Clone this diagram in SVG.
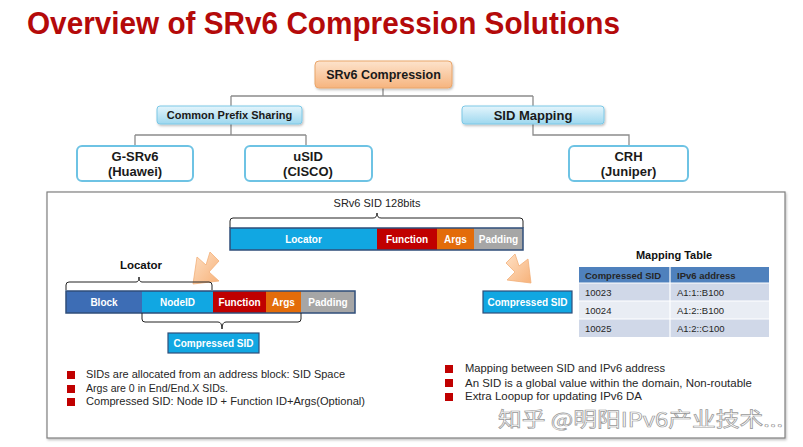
<svg xmlns="http://www.w3.org/2000/svg" width="803" height="447" viewBox="0 0 803 447">
<defs>
<linearGradient id="gOr" x1="0" y1="0" x2="0" y2="1"><stop offset="0" stop-color="#FDE3CC"/><stop offset="1" stop-color="#F6B47E"/></linearGradient>
<linearGradient id="gBl" x1="0" y1="0" x2="0" y2="1"><stop offset="0" stop-color="#E4F5FC"/><stop offset="1" stop-color="#9ED8EF"/></linearGradient>
<linearGradient id="gAr" x1="0" y1="0" x2="1" y2="1"><stop offset="0" stop-color="#FEE0C4"/><stop offset="1" stop-color="#F7B27A"/></linearGradient>
<filter id="sh" x="-10%" y="-10%" width="130%" height="140%"><feDropShadow dx="1" dy="1.5" stdDeviation="1" flood-color="#000" flood-opacity="0.25"/></filter>
</defs>
<style>
.t{font-family:"Liberation Sans",Arial,sans-serif}
.b{font-weight:bold}
.title{font-family:"Liberation Sans",Arial,sans-serif;font-weight:bold;font-size:31px;fill:#B40A0A}
.node{font-family:"Liberation Sans",Arial,sans-serif;font-weight:bold;fill:#1a1a1a}
.conn{fill:none;stroke:#8c8c8c;stroke-width:1.3}
.leaf{fill:#fff;stroke:#6EC3E4;stroke-width:2}
.seg{font-family:"Liberation Sans",Arial,sans-serif;font-weight:bold;font-size:10px;fill:#fff}
.brace{fill:none;stroke:#222;stroke-width:1}
.bul{fill:#C00000}
.bt{font-family:"Liberation Sans",Arial,sans-serif;font-size:11px;fill:#262626}
.tb{font-family:"Liberation Sans",Arial,sans-serif;font-size:9.5px;fill:#262626}
</style>
<rect width="803" height="447" fill="#fff"/>
<text class="title" x="27" y="34" textLength="593" lengthAdjust="spacingAndGlyphs">Overview of SRv6 Compression Solutions</text>

<g id="connectors">
<path class="conn" d="M383,88 V96 M231,96 H533 M231,96 V106 M533,96 V106"/>
<path class="conn" d="M231,124 V135 M135,135 H306 M135,135 V146 M306,135 V146"/>
<path class="conn" d="M533,124 V135 H629 V146"/>
</g>

<g id="srv6-compression">
<rect x="315" y="61" width="137" height="27" rx="4" fill="url(#gOr)" stroke="#E9A56B" stroke-width="1" filter="url(#sh)"/>
<text class="node" x="383.5" y="79" font-size="12.5" text-anchor="middle">SRv6 Compression</text>
</g>
<g id="common-prefix">
<rect x="157" y="106" width="145" height="18" rx="3" fill="url(#gBl)" stroke="#7CC8E6" stroke-width="1" filter="url(#sh)"/>
<text class="node" x="229.5" y="119" font-size="11" text-anchor="middle">Common Prefix Sharing</text>
</g>
<g id="sid-mapping">
<rect x="462" y="106" width="142" height="18" rx="3" fill="url(#gBl)" stroke="#7CC8E6" stroke-width="1" filter="url(#sh)"/>
<text class="node" x="533" y="120" font-size="13" text-anchor="middle">SID Mapping</text>
</g>
<g id="g-srv6">
<rect class="leaf" x="77" y="146" width="116" height="35" rx="5"/>
<text class="node" x="135" y="161" font-size="13" text-anchor="middle">G-SRv6</text>
<text class="node" x="135" y="176" font-size="13" text-anchor="middle">(Huawei)</text>
</g>
<g id="usid">
<rect class="leaf" x="245" y="146" width="127" height="35" rx="5"/>
<text class="node" x="308" y="161" font-size="13" text-anchor="middle">uSID</text>
<text class="node" x="308" y="176" font-size="13" text-anchor="middle">(CISCO)</text>
</g>
<g id="crh">
<rect class="leaf" x="569" y="146" width="119" height="35" rx="5"/>
<text class="node" x="628.5" y="161" font-size="13" text-anchor="middle">CRH</text>
<text class="node" x="628.5" y="176" font-size="13" text-anchor="middle">(Juniper)</text>
</g>

<g id="detail-frame">
<rect x="47" y="192" width="738" height="246" fill="#fff" stroke="#7f7f7f" stroke-width="1.2" filter="url(#sh)"/>
</g>

<g id="srv6-sid">
<text class="t" x="377" y="207" font-size="11" text-anchor="middle" fill="#222">SRv6 SID 128bits</text>
<path class="brace" d="M230,228 V221 Q230,218 233,218 H373 Q377,218 377,213 Q377,218 381,218 H520 Q523,218 523,221 V228"/>
<rect x="230" y="228" width="147" height="22" fill="#11A7E2"/>
<rect x="377" y="228" width="60" height="22" fill="#C00000"/>
<rect x="437" y="228" width="37" height="22" fill="#E36C0A"/>
<rect x="474" y="228" width="49" height="22" fill="#A6A6A6"/>
<rect x="230" y="228" width="293" height="22" fill="none" stroke="#2F4E7A" stroke-width="1.5"/>
<text class="seg" x="303.5" y="243" text-anchor="middle">Locator</text>
<text class="seg" x="407" y="243" text-anchor="middle">Function</text>
<text class="seg" x="455.5" y="243" text-anchor="middle">Args</text>
<text class="seg" x="498.5" y="243" text-anchor="middle">Padding</text>
</g>

<g id="arrow-left">
<path d="M219,261 L210,252 L206,265 L197,257 L193,284 L219,281 L209,272 Z" fill="url(#gAr)" stroke="#F2B07A" stroke-width="0.8" stroke-linejoin="round"/>
</g>
<g id="arrow-right">
<path d="M506,263 L515,254 L519,266 L528,259 L531,283 L507,280 L515,272 Z" fill="url(#gAr)" stroke="#F2B07A" stroke-width="0.8" stroke-linejoin="round"/>
</g>

<g id="gsrv6-format">
<text class="t b" x="141" y="269" font-size="11.5" text-anchor="middle" fill="#111">Locator</text>
<path class="brace" d="M66,290 V285 Q66,282 69,282 H136 Q139,282 139,277 Q139,282 142,282 H209 Q212,282 212,285 V290"/>
<rect x="66" y="291" width="76" height="22" fill="#3D6DB5"/>
<rect x="142" y="291" width="71" height="22" fill="#11A7E2"/>
<rect x="213" y="291" width="53" height="22" fill="#C00000"/>
<rect x="266" y="291" width="35" height="22" fill="#E36C0A"/>
<rect x="301" y="291" width="54" height="22" fill="#A6A6A6"/>
<rect x="66" y="291" width="289" height="22" fill="none" stroke="#2F4E7A" stroke-width="1.5"/>
<text class="seg" x="104" y="306" text-anchor="middle">Block</text>
<text class="seg" x="177.5" y="306" text-anchor="middle">NodeID</text>
<text class="seg" x="239.5" y="306" text-anchor="middle">Function</text>
<text class="seg" x="283.5" y="306" text-anchor="middle">Args</text>
<text class="seg" x="328" y="306" text-anchor="middle">Padding</text>
<path class="brace" d="M142,313 V319 Q142,322 145,322 H218 Q222,322 222,329 Q222,322 226,322 H298 Q301,322 301,319 V313"/>
<rect x="168" y="333" width="91" height="20" fill="#11A7E2" stroke="#2F4E7A" stroke-width="1.2"/>
<text class="seg" x="213.5" y="347" text-anchor="middle">Compressed SID</text>
</g>

<g id="crh-format">
<rect x="483" y="291" width="89" height="22" fill="#11A7E2" stroke="#2F4E7A" stroke-width="1.2"/>
<text class="seg" x="527.5" y="306" text-anchor="middle">Compressed SID</text>
</g>

<g id="mapping-table">
<text class="t b" x="674" y="259" font-size="11" text-anchor="middle" fill="#111">Mapping Table</text>
<rect x="579" y="267" width="190" height="16" fill="#4F81BD"/>
<rect x="579" y="283" width="190" height="18" fill="#D0D8E8"/>
<rect x="579" y="301" width="190" height="18" fill="#E9EDF4"/>
<rect x="579" y="319" width="190" height="18" fill="#D0D8E8"/>
<path d="M670,267 V337 M579,283 H769 M579,301 H769 M579,319 H769" stroke="#fff" stroke-width="1.2"/>
<text class="tb b" x="585" y="279" fill="#fff">Compressed SID</text>
<text class="tb b" x="677" y="279" fill="#fff">IPv6 address</text>
<text class="tb" x="585" y="296">10023</text>
<text class="tb" x="677" y="296">A1:1::B100</text>
<text class="tb" x="585" y="314">10024</text>
<text class="tb" x="677" y="314">A1:2::B100</text>
<text class="tb" x="585" y="332">10025</text>
<text class="tb" x="677" y="332">A1:2::C100</text>
</g>

<g id="bullets-left">
<rect class="bul" x="67" y="371" width="8" height="8"/>
<rect class="bul" x="67" y="385" width="8" height="8"/>
<rect class="bul" x="67" y="398" width="8" height="8"/>
<text class="bt" x="86" y="378" textLength="259" lengthAdjust="spacingAndGlyphs">SIDs are allocated from an address block: SID Space</text>
<text class="bt" x="86" y="392" textLength="142" lengthAdjust="spacingAndGlyphs">Args are 0 in End/End.X SIDs.</text>
<text class="bt" x="86" y="405" textLength="279" lengthAdjust="spacingAndGlyphs">Compressed SID: Node ID + Function ID+Args(Optional)</text>
</g>

<g id="bullets-right">
<rect class="bul" x="445" y="365" width="8" height="8"/>
<rect class="bul" x="445" y="379" width="8" height="8"/>
<rect class="bul" x="445" y="393" width="8" height="8"/>
<text class="bt" x="465" y="372" textLength="200" lengthAdjust="spacingAndGlyphs">Mapping between SID and IPv6 address</text>
<text class="bt" x="465" y="387" textLength="287" lengthAdjust="spacingAndGlyphs">An SID is a global value within the domain, Non-routable</text>
<text class="bt" x="465" y="400" textLength="177" lengthAdjust="spacingAndGlyphs">Extra Loopup for updating IPv6 DA</text>
</g>

<text x="498" y="427" font-family="'Noto Sans CJK SC','Liberation Sans',sans-serif" font-size="20" fill="#fff" fill-opacity="0.85" stroke="#9a9a9a" stroke-width="0.7" textLength="285" lengthAdjust="spacingAndGlyphs">知乎 @明阳IPv6产业技术...</text>
</svg>
